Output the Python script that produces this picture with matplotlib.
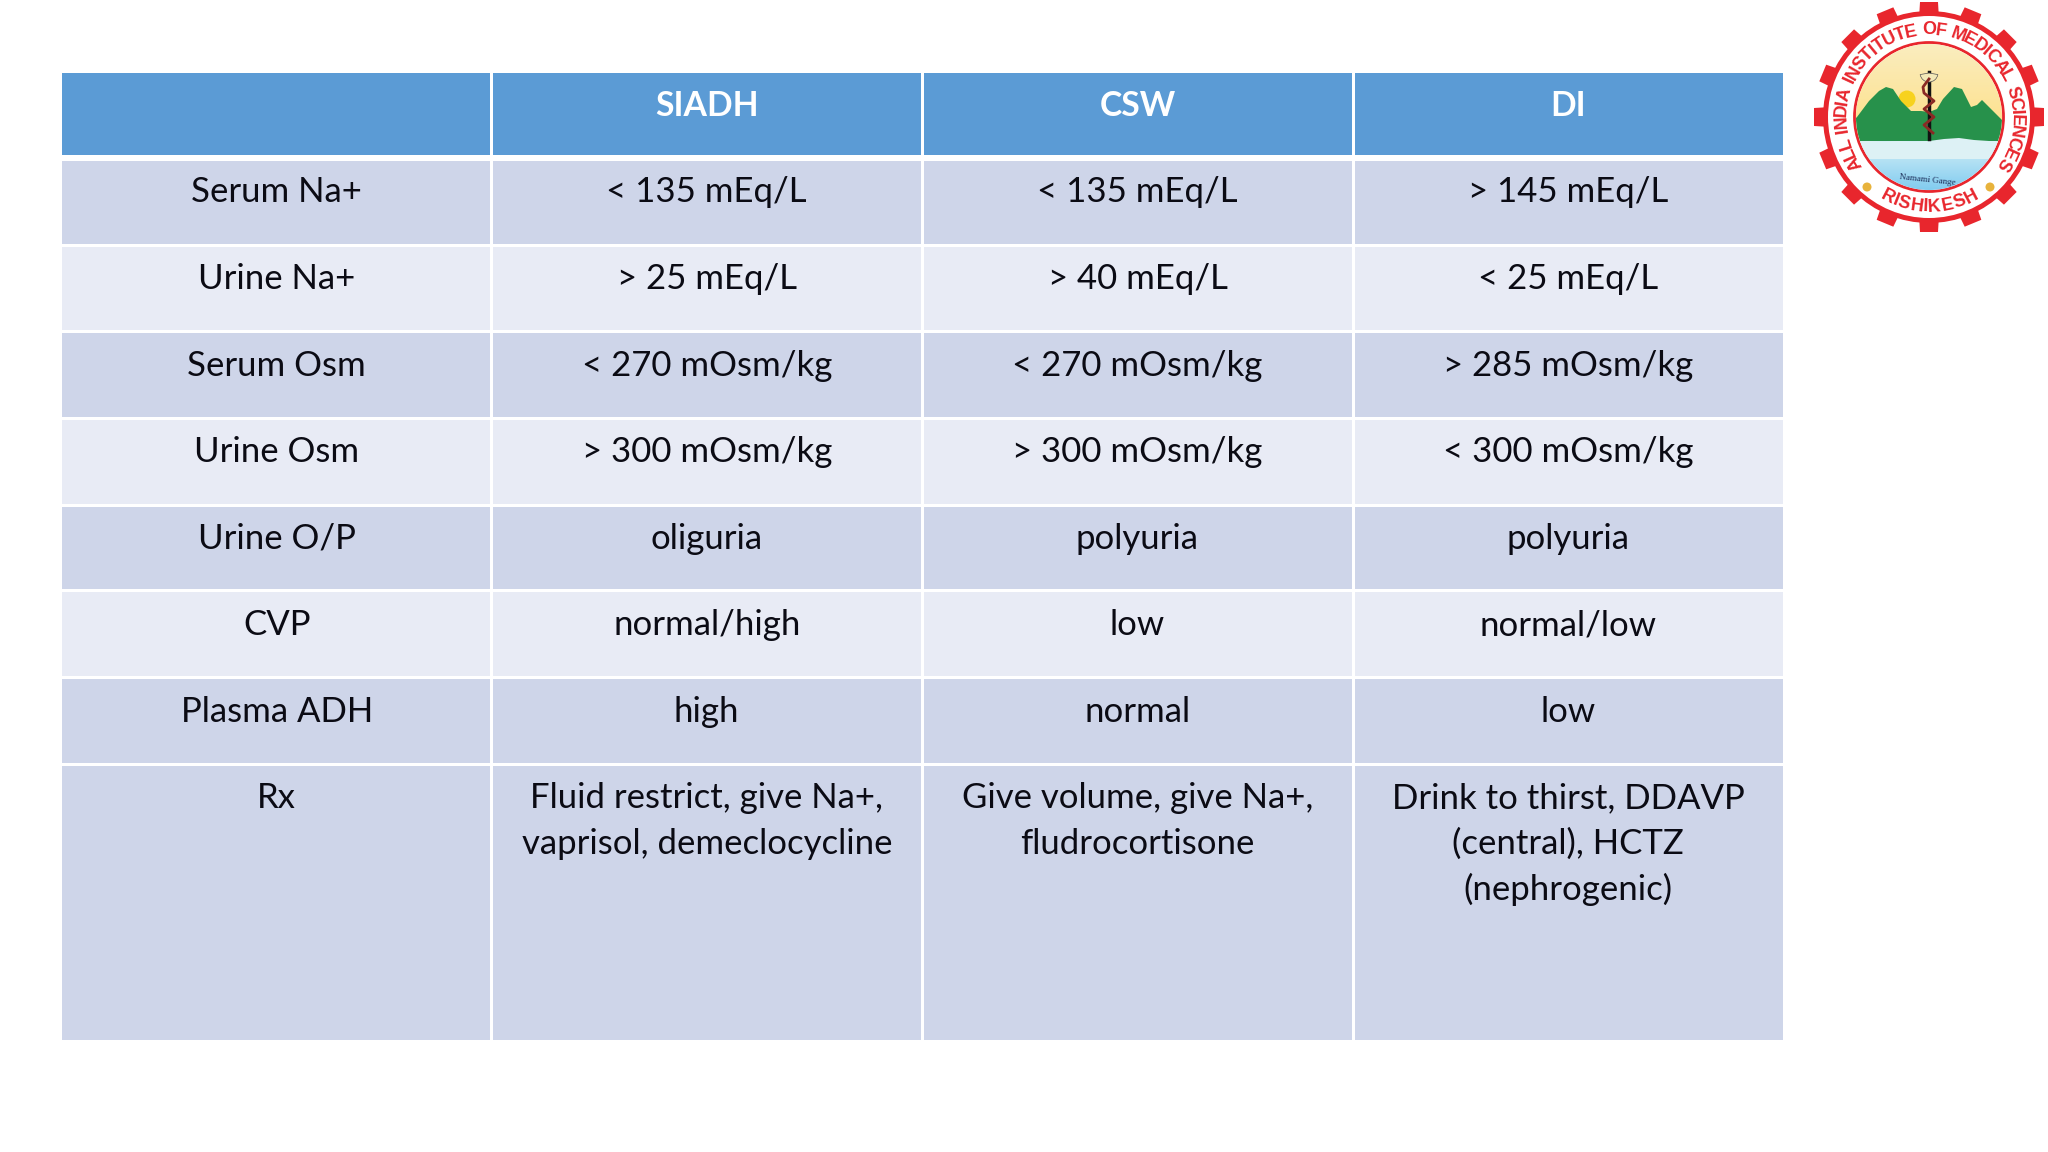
import numpy as np
import matplotlib
matplotlib.use("Agg")
import matplotlib.pyplot as plt
from matplotlib.patches import Rectangle, Circle, Polygon, Wedge
from matplotlib.textpath import TextPath
from matplotlib.font_manager import FontProperties

plt.rcParams['font.family'] = ['Lato', 'DejaVu Sans']

# table content
columns = ["", "SIADH", "CSW", "DI"]
row_names = ["Serum Na+", "Urine Na+", "Serum Osm", "Urine Osm", "Urine O/P", "CVP", "Plasma ADH", "Rx"]
siadh = ["< 135 mEq/L", "> 25 mEq/L", "< 270 mOsm/kg", "> 300 mOsm/kg", "oliguria", "normal/high", "high",
         "Fluid restrict, give Na+,\nvaprisol, demeclocycline"]
csw = ["< 135 mEq/L", "> 40 mEq/L", "< 270 mOsm/kg", "> 300 mOsm/kg", "polyuria", "low", "normal",
       "Give volume, give Na+,\nfludrocortisone"]
di = ["> 145 mEq/L", "< 25 mEq/L", "> 285 mOsm/kg", "< 300 mOsm/kg", "polyuria", "normal/low", "low",
      "Drink to thirst, DDAVP\n(central), HCTZ\n(nephrogenic)"]

# layout, in pixels of the slide
col_edges = [62, 491.5, 922, 1353, 1783]
row_edges = [161, 245, 331, 418, 505, 590, 677, 764, 1040]
row_shades = [0, 1, 0, 1, 0, 1, 0, 0]
head_top, head_bottom = 73, 155
FONT = 25
HEAD_FONT = 24.3
LINE = 45.7
BASE0 = 202.3
BASE_STEP = 86.6

HEAD_BLUE = "#5B9BD5"
DARK_ROW = "#CED5E9"
LIGHT_ROW = "#E8EBF5"
TEXT = "#0B0B14"
RED = "#E8262D"

fig = plt.figure(figsize=(20.48, 11.52), dpi=100)
ax = fig.add_axes([0, 0, 1, 1])
ax.set_xlim(0, 2048)
ax.set_ylim(1152, 0)
ax.axis("off")


def cell(x0, x1, y0, y1, color):
    ax.add_patch(Rectangle((x0, y0), x1 - x0, y1 - y0, fc=color, ec="none"))


# header
for i, name in enumerate(columns):
    x0, x1 = col_edges[i], col_edges[i + 1]
    cell(x0 + (1.5 if i else 0), x1 - (1.5 if i < 3 else 0), head_top, head_bottom, HEAD_BLUE)
    ax.text((x0 + x1) / 2, head_top + 43.5, name, color="white", fontsize=HEAD_FONT, fontweight="bold",
            ha="center", va="baseline")

# body
table = [row_names, siadh, csw, di]
for r in range(len(row_names)):
    color = LIGHT_ROW if row_shades[r] else DARK_ROW
    y0, y1 = row_edges[r], row_edges[r + 1]
    for c, values in enumerate(table):
        x0, x1 = col_edges[c], col_edges[c + 1]
        cell(x0 + (1.5 if c else 0), x1 - (1.5 if c < 3 else 0), y0 + (1.5 if r else 0),
             y1 - (1.5 if r < 7 else 0), color)
        for k, line in enumerate(values[r].split("\n")):
            ax.text((x0 + x1) / 2, BASE0 + r * BASE_STEP + k * LINE, line, color=TEXT, fontsize=FONT,
                    ha="center", va="baseline")

# logo
cx, cy = 1929, 117
fp = FontProperties(family="Liberation Sans", weight="bold")


def curved(txt, radius, mid_deg, size, arc_deg, inward=False):
    # one text object per letter, spread over the given arc
    widths = []
    for ch in txt:
        if ch == " ":
            widths.append(size * 0.4)
        else:
            w = TextPath((0, 0), ch, size=size, prop=fp).get_extents().width
            widths.append(w + size * 0.12)
    scale = np.radians(arc_deg) / sum(widths)
    pos = -sum(widths) / 2
    for ch, w in zip(txt, widths):
        off = (pos + w / 2) * scale
        pos += w
        if inward:
            a = np.radians(mid_deg) - off
            rot = np.degrees(a) - 90
        else:
            a = np.radians(mid_deg) + off
            rot = np.degrees(a) + 90
        ax.text(cx + radius * np.cos(a), cy - radius * np.sin(a), ch, color=RED, fontsize=size,
                family="Liberation Sans", fontweight="bold", rotation=rot, rotation_mode="anchor",
                ha="center", va="center", zorder=5)


for k in range(16):
    a = 2 * np.pi * k / 16 + np.pi / 2
    ca, sa = np.cos(a), np.sin(a)
    pts = [(r * ca - t * sa, r * sa + t * ca) for r, t in [(98, -10), (115, -9), (115, 9), (98, 10)]]
    ax.add_patch(Polygon([(cx + px, cy - py) for px, py in pts], fc=RED, ec="none", zorder=2))
ax.add_patch(Circle((cx, cy), 106, fc=RED, ec="none", zorder=2))
ax.add_patch(Circle((cx, cy), 101, fc="white", ec="none", zorder=2))
ax.add_patch(Circle((cx, cy), 74.5, fc="white", ec=RED, lw=2, zorder=3))

disc = Circle((cx, cy), 73, fc="none", ec="none", zorder=3)
ax.add_patch(disc)
sky = np.linspace(1, 0, 60)[:, None, None] * np.array([[[-0.02, 0.06, 0.25]]]) + np.array([[[1.0, 0.87, 0.5]]])
sky_im = ax.imshow(np.clip(sky, 0, 1), extent=(cx - 73, cx + 73, cy + 30, cy - 73), zorder=3, aspect="auto")
sky_im.set_clip_path(disc)
water = np.linspace(0, 1, 60)[:, None, None] * np.array([[[-0.35, -0.15, -0.03]]]) + np.array([[[0.86, 0.95, 0.97]]])
water_im = ax.imshow(np.clip(water, 0, 1), extent=(cx - 73, cx + 73, cy + 73, cy + 20), zorder=3, aspect="auto")
water_im.set_clip_path(disc)
ax.set_xlim(0, 2048)
ax.set_ylim(1152, 0)

sun = Circle((cx - 22, cy - 18), 8.5, fc="#F7D21E", ec="none", zorder=3.1)
ax.add_patch(sun)
# hills, relative to the logo centre
hill_x = [-75, -72, -60, -50, -43, -36, -28, -18, -8, 0, 8, 14, 25, 33, 42, 48, 53, 60, 73, 75, 75, -75]
hill_y = [3, 0, -16, -26, -30, -28, -16, -6, -6, -5, -8, -18, -30, -28, -10, -12, -17, -10, 3, 8, 24, 24]
hills = Polygon([(cx + a, cy + b) for a, b in zip(hill_x, hill_y)], fc="#27914B", ec="none", zorder=3.2)
ax.add_patch(hills)
hills.set_clip_path(disc)
shore_x = np.array([-75, -60, -45, -30, -15, 0, 15, 30, 45, 60, 75, 75, -75])
shore_y = np.array([25, 24, 25, 24, 25, 24, 22, 21, 23, 24, 25, 42, 42])
shore = Polygon(np.column_stack([cx + shore_x, cy + shore_y]), fc="#DDF1F5", ec="none", zorder=3.3)
ax.add_patch(shore)
shore.set_clip_path(disc)

# staff and snake
ax.plot([cx, cx], [cy - 45, cy + 22], color="#111111", lw=2.5, zorder=4)
snake_t = [-38, -30, -24, -16, -8, 0, 8, 16]
snake_o = [0, -6, -5, 5, -5, 5, -5, 4]
ax.plot([cx + o for o in snake_o], [cy + t for t in snake_t], color="#8A2A25", lw=2, zorder=4.1)
ax.add_patch(Wedge((cx, cy - 44), 9, 10, 170, fc="#F3E9B8", ec="#555555", lw=0.5, zorder=4))

ax.add_patch(Circle((cx - 62, cy + 70), 4.5, fc="#E8B33C", ec="none", zorder=4))
ax.add_patch(Circle((cx + 61, cy + 70), 4.5, fc="#E8B33C", ec="none", zorder=4))

ax.text(cx - 2, cy + 63, "Namami Gange", fontsize=6.5, family="Liberation Serif", color="#1A2A55",
        ha="center", va="center", rotation=-6, zorder=4.2)

curved("ALL INDIA INSTITUTE OF MEDICAL SCIENCES", 87, 90, 13, 252, inward=True)
curved("RISHIKESH", 90, -90, 13, 64)

fig.savefig("out.png", dpi=100, facecolor="white")
